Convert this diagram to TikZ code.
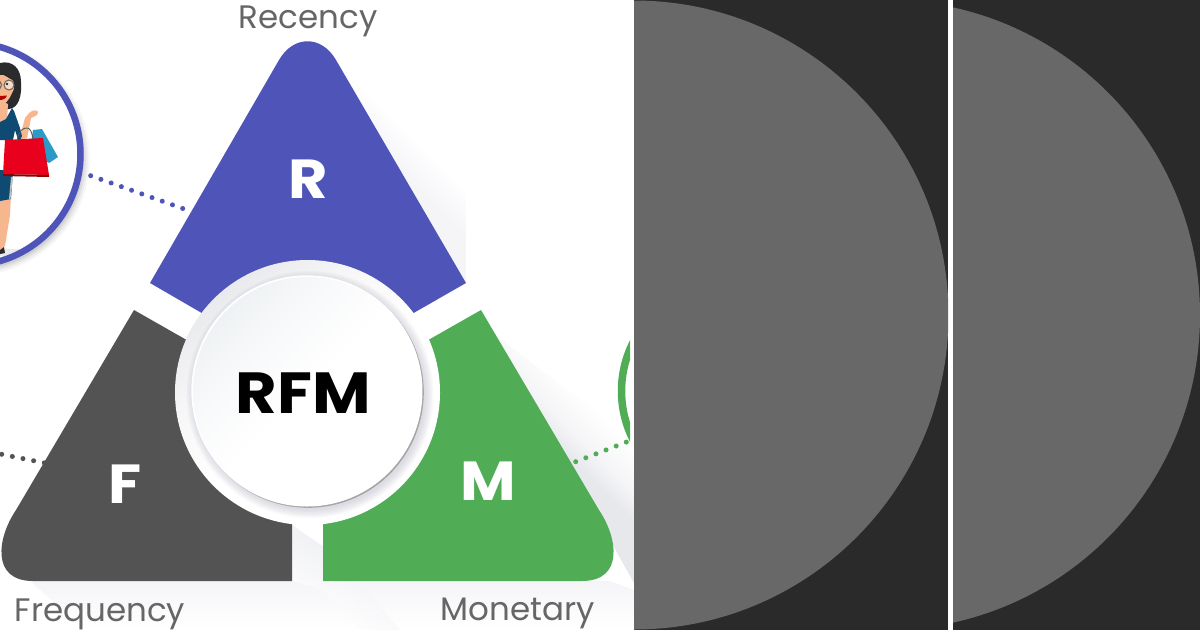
\documentclass[tikz,border=0pt]{standalone}
\usepackage{fontspec}
\newfontfamily\pop{Poppins}
\newfontfamily\popw[FakeStretch=1.1]{Poppins}
\definecolor{cblue}{HTML}{4E54B8}
\definecolor{cgray}{HTML}{535353}
\definecolor{cgreen}{HTML}{50AD55}
\definecolor{cdark}{HTML}{2A2A2A}
\definecolor{cdisc}{HTML}{686868}
\definecolor{clabel}{HTML}{666666}
\definecolor{cdress}{HTML}{0F4A72}
\definecolor{cskin}{HTML}{F6B78F}
\definecolor{chair}{HTML}{2B2A2C}
\definecolor{cred}{HTML}{E8001C}
\definecolor{shadeA}{HTML}{EBECF0}
\definecolor{shadeB}{HTML}{F5F5F8}
\definecolor{shadeE}{HTML}{E7E8EC}
\definecolor{shadeF}{HTML}{F5F5F7}
\definecolor{ringA}{HTML}{E8E9EC}
\definecolor{ringB}{HTML}{F7F7F8}
\definecolor{discA}{HTML}{EEF1F3}
\definecolor{discB}{HTML}{F8F9FA}
\pgfdeclareverticalshading{discshade}{100bp}{color(0bp)=(white);color(50bp)=(white);color(64bp)=(discB);color(76bp)=(discA);color(100bp)=(discA)}
\pgfdeclareverticalshading{ringshade}{100bp}{color(0bp)=(white);color(48bp)=(white);color(62bp)=(ringB);color(76bp)=(ringA);color(100bp)=(ringA)}
\pgfdeclareverticalshading{edgegreen}{100bp}{color(0bp)=(white);color(37bp)=(white);color(45bp)=(shadeF);color(50bp)=(shadeE);color(100bp)=(shadeE)}
\pgfdeclareverticalshading{edgeblue}{100bp}{color(0bp)=(white);color(40bp)=(white);color(50bp)=(shadeB);color(100bp)=(shadeB)}
\tikzset{
 x=1pt,y=-1pt,
 caption/.style={font=\pop\fontsize{32.5}{32.5}\selectfont,text=clabel,anchor=base,inner sep=0pt},
 letter/.style={font=\popw\bfseries\fontsize{55}{55}\selectfont,text=white,anchor=base,inner sep=0pt},
 dots/.style={line width=5pt,line cap=round,dash pattern=on 0pt off 10.85pt}
}
\begin{document}
\begin{tikzpicture}
\useasboundingbox (0,0) rectangle (1200,630);
\fill[white] (0,0) rectangle (1200,630);
% long shadows
\begin{scope}
\clip (335,60) -- (430,120) -- (466,170) -- (466,283) -- cycle;
\shade[shading=edgeblue,shading angle=135] (335,60) rectangle (466,283);
\end{scope}
\begin{scope}
\clip (495,335) -- (634,440) -- (634,583) -- cycle;
\shade[shading=edgegreen,shading angle=135] (481,310) rectangle (634,583);
\end{scope}
\shade[top color=shadeB,bottom color=white] (30,581) -- (610,581) -- (634,590) -- (634,630) -- (85,630) -- cycle;
\shade[top color=shadeA,bottom color=white,shading angle=-25] (292,525) -- (340,558) -- (400,630) -- (360,630) -- (323,590) -- (292,581) -- cycle;
% green partial ring
\begin{scope}
\clip (600,320) rectangle (630,450);
\draw[cgreen,line width=7.5pt] (729,391) circle[radius=107.5pt];
\end{scope}
% panels
\fill[cdark] (634,0) rectangle (948,630);
\fill[cdark] (953,0) rectangle (1200,630);
\begin{scope}
\clip (634,0) rectangle (948,630);
\fill[cdisc] (634,315) circle[radius=314.5pt];
\end{scope}
\begin{scope}
\clip (953,0) rectangle (1200,630);
\fill[cdisc] (885,315) circle[radius=315pt];
\end{scope}
% woman circle
\foreach \r/\o in {118/.03,116/.04,114/.05,112/.07}{
  \fill[black,opacity=\o] (-28,158) circle[radius=\r pt];
}
\fill[white] (-30.9,154) circle[radius=111.4pt];
\begin{scope}
\clip (-30.9,154) circle[radius=108pt];
\fill[black!8] (0,249) rectangle (20,256);
% teal bag
\fill[cyan!60!teal] (33,130) -- (42,129) -- (58,157) -- (49,163) -- (30,150) -- cycle;
% hair
\fill[chair] (0,63) .. controls (12,60) and (21,68) .. (21,82) .. controls (22,95) and (19,108) .. (9,109) -- (0,109) -- cycle;
% neck and face
\fill[cskin] (0,100) -- (8,104) -- (7,120) -- (0,124) -- cycle;
\fill[cskin] (0,75) .. controls (6,74) and (8,78) .. (11,79) .. controls (15,80) and (15,90) .. (12,93) .. controls (9,100) and (5,105) .. (0,106) -- cycle;
\fill[chair] (0,63) .. controls (8,64) and (11,72) .. (13,80) .. controls (8,78) and (4,74) .. (0,74) -- cycle;
\draw[black!60,line width=1pt,fill=white,fill opacity=.5] (9,85) circle[radius=5pt];
\draw[black!60,line width=1pt] (-3,85) circle[radius=4.5pt];
\fill[chair] (7,84) circle[radius=1.3pt];
\fill[red!70!black] (0,96) -- (7,95.5) .. controls (6,99) and (2,100) .. (0,100) -- cycle;
% arm and hand
\fill[cskin] (19,140) -- (25,118) -- (29,113) .. controls (33,109) and (39,110) .. (38,113) .. controls (37,117) and (33,116) .. (31,118) -- (27,138) -- cycle;
% dress
\fill[cdress] (0,122) -- (6,119) -- (12,108) -- (14,111) -- (20,128) -- (22,136) -- (19,142) -- (15,130) -- (13,140) -- (0,140) -- cycle;
% legs and skirt
\fill[cskin] (0,195) -- (11,195) -- (10,215) -- (5,246) -- (0,250) -- cycle;
\fill[cdress] (0,170) -- (13,170) -- (11,199) -- (0,201) -- cycle;
\fill[black!25] (11,177) -- (13,177) -- (10.5,199) -- (9,199) -- cycle;
\fill[chair] (0,250) -- (4,247) -- (5,253) -- (0,254) -- cycle;
% red bag
\fill[cred] (5,140) -- (43,138) -- (49,175) -- (3,174) -- cycle;
\fill[red!55!black] (3,174) -- (49,175) -- (49,177) -- (3,176) -- cycle;
\draw[black!65,line width=.9pt] (17,141) .. controls (19,130) and (23,128) .. (27,128) .. controls (30,128) and (32,132) .. (33,139);
\end{scope}
\draw[cblue,line width=6.5pt] (-30.9,154) circle[radius=111.4pt];
% triangles
\fill[cblue] (150,283) -- (279,60) .. controls (293.4,35) and (321.6,35) .. (336,60) -- (466,283) -- (307,374) -- cycle;
\fill[cgray] (134,310) -- (292,400) -- (292,581) -- (33,581) .. controls (-9,581) and (-3,538) .. (16,510) -- cycle;
\fill[cgreen] (481,310) -- (323,400) -- (323,581) -- (582,581) .. controls (624,581) and (618,538) .. (599,510) -- cycle;
% connectors
\coordinate (womanEdge) at (90.7,175.7);
\coordinate (blueEdge) at (182.8,208.5);
\coordinate (leftEdge) at (1.7,454.3);
\coordinate (grayEdge) at (45,463);
\coordinate (greenEdge) at (575.7,461.7);
\coordinate (ringEdge) at (627.8,441.5);
\draw[cblue,dots] (womanEdge) -- (blueEdge);
\draw[cgray,dots] (leftEdge) -- (grayEdge);
\draw[cgreen,dots] (greenEdge) -- (ringEdge);
% centre disc
\shade[shading=ringshade,shading angle=40] (307.5,392.5) circle[radius=132.5pt];
\foreach \r in {116,117.5,119,120.5,122,123.5}{
  \fill[black!60!blue!40!gray,opacity=.03] (310,394.5) circle[radius=\r pt];
}
\fill[black!35!white] (308.2,392.2) circle[radius=115.6pt];
\fill[white] (306.9,390.9) circle[radius=115.6pt];
\shade[shading=discshade,shading angle=45] (307.5,391.5) circle[radius=114.5pt];
% texts
\node[font=\popw\bfseries\fontsize{58}{58}\selectfont,text=black,anchor=base,inner sep=0pt] (rfm) at (303.5,413) {RFM};
\node[letter] (r) at (308,198) {R};
\node[letter] (f) at (125.5,503) {F};
\node[letter] (m) at (488.5,500) {M};
\node[caption] (recency) at (308,28) {Recency};
\node[caption] (frequency) at (100,621) {Frequency};
\node[caption] (monetary) at (517.5,620) {Monetary};
\end{tikzpicture}
\end{document}
